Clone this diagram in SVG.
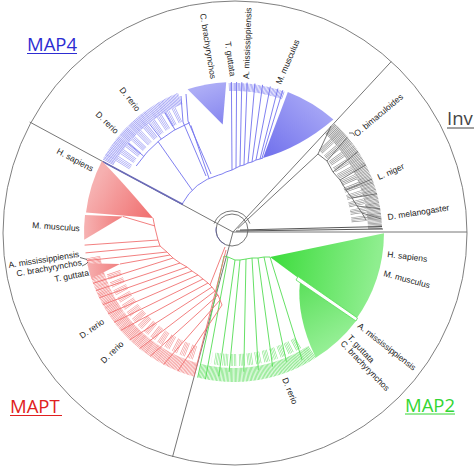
<svg xmlns="http://www.w3.org/2000/svg" width="474" height="467" viewBox="0 0 474 467">
<style>
.sp{font-family:"Liberation Sans",Arial,sans-serif;font-size:8.5px;fill:#222}
.big{font-family:"Open Sans","Liberation Sans",sans-serif;font-size:18.5px}
.div{stroke:#777;stroke-width:1;fill:none}
.bl{stroke:#7272ee;stroke-width:0.9;fill:none}
.rd{stroke:#f07272;stroke-width:0.9;fill:none}
.gr{stroke:#55dd55;stroke-width:0.9;fill:none}
.gy{stroke:#666;stroke-width:0.9;fill:none}
.comb{fill:none;stroke-dasharray:0.6 0.7}
.comb2{fill:none;stroke-dasharray:0.6 0.9 0.6 0.9 0.6 0.9 0.6 3;opacity:0.75}
.lead{stroke:#333;stroke-width:0.7;fill:none}
</style>
<defs>
<linearGradient id="gBlueMid" gradientUnits="userSpaceOnUse" x1="222" y1="125" x2="207" y2="86"><stop offset="0" stop-color="#8585ef"/><stop offset="1" stop-color="#acacf6"/></linearGradient>
<linearGradient id="gBlueRight" gradientUnits="userSpaceOnUse" x1="263" y1="158" x2="312" y2="104"><stop offset="0" stop-color="#6f6fec"/><stop offset="1" stop-color="#a3a3f5"/></linearGradient>
<linearGradient id="gRedBig" gradientUnits="userSpaceOnUse" x1="153" y1="218" x2="95" y2="185"><stop offset="0" stop-color="#f06e6e"/><stop offset="1" stop-color="#f6b0b0"/></linearGradient>
<linearGradient id="gRedSmall" gradientUnits="userSpaceOnUse" x1="123" y1="240" x2="86" y2="240"><stop offset="0" stop-color="#f07a7a"/><stop offset="1" stop-color="#f6b0b0"/></linearGradient>
<linearGradient id="gGreen1" gradientUnits="userSpaceOnUse" x1="270" y1="257" x2="375" y2="275"><stop offset="0" stop-color="#3cdc3c"/><stop offset="1" stop-color="#8fee8f"/></linearGradient>
<linearGradient id="gGreen2" gradientUnits="userSpaceOnUse" x1="300" y1="282" x2="337" y2="343"><stop offset="0" stop-color="#5be05b"/><stop offset="1" stop-color="#95ef95"/></linearGradient>
</defs>
<rect width="474" height="467" fill="#fff"/>

<g id="frame">
<circle cx="235" cy="233" r="232" fill="none" stroke="#808080" stroke-width="1"/>
</g>

<g id="connectors">
<path class="div" d="M233,232 L29.7,122"/>
<path class="div" d="M233,232 L391.3,61.5"/>
<path class="div" d="M233,232 L467,232"/>
<path class="div" d="M233,232 L172.5,457"/>
</g>

<g id="clade-map4">
<path class="comb" stroke="#8a8af2" stroke-width="12" d="M108.1,162.2 A144,144 0 0 1 180.1,98.5"/>
<path class="comb2" stroke="#7a7af0" stroke-width="16" d="M122.6,165 A130,130 0 0 1 179.1,114.2"/>
<path class="comb" stroke="#8a8af2" stroke-width="8" d="M228.9,87.1 A145,145 0 0 1 283.6,95.7"/>
<path fill="url(#gBlueMid)" d="M222.7,124.6 L187.6,89.3 A150,150 0 0 1 226.2,82.2 Z"/>
<path fill="url(#gBlueRight)" d="M263,158 L287.8,92 A150,150 0 0 1 333.4,119.6 Q300,148 263,158 Z"/>
<path class="bl" d="M231.4,82 L232,170 M236.6,82 L236,168 M241.8,82.2 L240,166 M247.1,82.6 L244,165 M254.9,83.5 L248,163 M262.6,84.8 L252,162 M270.3,86.5 L256,160 M277.9,88.6 L260,159 M282.8,90.2 L262,158"/>
<path class="bl" d="M218.7,175 L222,174 L226,172 L232,170 L236,168 L240,166 L244,165 L248,163 L252,162 L256,160 L260,159 L263,158"/>
<path class="bl" d="M182.1,204 A59,59 0 0 1 218.7,175"/>
<path class="bl" d="M192.3,190.3 L158.1,141.6 M209.1,178.5 L190.9,125.4 M206,176 L183,122 L181,96 M211,174 L188,121 L186,94"/>
<path class="bl" d="M136.2,166 A118,118 0 0 1 189.8,122.6 M143.6,156.1 L128.3,143.3 M161.3,139 L149,123.3 M175,129.8 L165,112.5"/>
<path stroke="#6a6ab8" stroke-width="1.5" fill="none" d="M183,204.5 L102.5,161.5"/>
<path class="bl" d="M224.7,244.3 A16,16 0 0 1 216.2,227.2"/>
<text class="sp" transform="translate(200,14) rotate(81)">C. brachyrynchos</text>
<text class="sp" transform="translate(225,42) rotate(82)">T. guttata</text>
<text class="sp" transform="translate(249,79) rotate(-88)">A. mississippiensis</text>
<text class="sp" transform="translate(281,85) rotate(-67)">M. musculus</text>
<text class="sp" transform="translate(119,90) rotate(52)">D. rerio</text>
<text class="sp" transform="translate(95,115) rotate(44)">D. rerio</text>
<text class="sp" transform="translate(56,153) rotate(28)">H. sapiens</text>
<text class="big" x="27" y="51" fill="#2d2dd2">MAP4</text>
<line x1="27" y1="53.5" x2="77" y2="53.5" stroke="#2d2dd2" stroke-width="1"/>
</g>

<g id="clade-inv">
<path class="comb" stroke="#777" stroke-width="14" d="M330.2,128.9 A141,141 0 0 1 375,229.5"/>
<path class="comb2" stroke="#666" stroke-width="16" d="M324.6,144.5 A126,126 0 0 1 359.7,223.2"/>
<path class="gy" d="M237.7,228.6 L318,154 L331,126"/>
<path class="gy" d="M318,154 L327,161 L333,172 L340,180 L346,190 L352,198 L357,206 L362,213 L366,220"/>
<path class="gy" d="M327,161 L347.4,136.9 M333,172 L358.1,151.4 M340,180 L365.9,164.8 M346,190 L372.2,179 M352,198 L377,193.7 M357,206 L380.2,208.8 M362,213 L381.4,219.1"/>
<path stroke="#444" stroke-width="0.9" fill="none" d="M236,231 L383,229 M240,230 L382,226.5"/>
<circle cx="232" cy="230" r="16" fill="none" stroke="#666" stroke-width="0.9"/>
<path class="gy" d="M214.1,223.5 A19,19 0 0 1 249.9,223.5"/>
<path class="lead" d="M349,133 L353,133 L355,136"/>
<text class="sp" transform="translate(357,137) rotate(-40)">O. bimaculoides</text>
<text class="sp" transform="translate(379,180) rotate(-24)">L. niger</text>
<text class="sp" transform="translate(388,220) rotate(-9)">D. melanogaster</text>
<text class="big" x="447" y="125" fill="#444">Inv</text>
<line x1="447" y1="128" x2="474" y2="128" stroke="#444" stroke-width="1"/>
</g>

<g id="clade-map2">
<path class="comb" stroke="#66e066" stroke-width="14" d="M311.9,351.9 A143,143 0 0 1 199.4,370.7"/>
<path class="comb2" stroke="#55dd55" stroke-width="12" d="M298,342.9 A128,128 0 0 1 211.8,358.1"/>
<path fill="url(#gGreen1)" d="M270,257 L384,233.3 A150,150 0 0 1 355.4,320.2 Z"/>
<path fill="url(#gGreen2)" d="M300,282 L356,321 A150,150 0 0 1 315.7,357.8 Q296,316 300,282 Z"/>
<path fill="#fff" stroke="#55dd55" stroke-width="0.8" d="M298,276.5 L357.5,318 L356,321 L296,280 Z"/>
<path class="gr" d="M224,256 L197.7,377.5 M228,257 L205.4,379.2 M235,260 L218.8,376.2 M240,260 L229.1,371.9 M246,259 L243.8,371.7 M252,258 L258.3,369.9 M258,258 L272.6,366.6 M264,257 L286.4,361.8 M270,257 L302.1,360"/>
<path class="gr" d="M224,256 L228,257 L235,260 L240,260 L246,259 L252,258 L258,258 L264,257 L270,257"/>
<text class="sp" transform="translate(387,257) rotate(7)">H. sapiens</text>
<text class="sp" transform="translate(383,276) rotate(15)">M. musculus</text>
<text class="sp" transform="translate(357,327) rotate(38)">A. mississippiensis</text>
<text class="sp" transform="translate(347,338) rotate(47)">T. guttata</text>
<text class="sp" transform="translate(340,344) rotate(46)">C. brachyrynchos</text>
<text class="sp" transform="translate(282,379) rotate(68)">D. rerio</text>
<text class="big" x="405" y="412" fill="#33d633">MAP2</text>
<line x1="405" y1="414" x2="455" y2="414" stroke="#33d633" stroke-width="1"/>
</g>

<g id="clade-mapt">
<path class="comb" stroke="#f28080" stroke-width="14" d="M194.6,369.5 A143,143 0 0 1 93.2,256.8"/>
<path class="comb2" stroke="#f07070" stroke-width="14" d="M194.8,352.8 A127,127 0 0 1 113.2,271.2"/>
<path fill="url(#gRedBig)" d="M101.9,160.9 Q122,181 153,218 L86,212.5 A150,150 0 0 1 101.9,160.9 Z"/>
<path fill="url(#gRedSmall)" d="M123,216.5 L84.2,239.8 A150,150 0 0 1 85,215 Z"/>
<path fill="url(#gRedSmall)" d="M120,264 L91.3,278.4 A150,150 0 0 1 87.3,263.2 Z"/>
<path class="rd" d="M84.6,245.1 L158,240 M85.5,252.9 L160,246 M86.8,260.6 L167,252 M93,283.3 L173,258 M95.9,290.6 L180,263 M99.2,297.8 L187,267 M102.8,304.7 L192,271 M108.2,313.7 L198,275 M114.2,322.3 L203,279 M120.8,330.4 L208,283 M129.8,339.9 L212,287 M139.6,348.6 L215,291 M150.1,356.4 L218,295 M163.6,364.4 L220,300 M177.8,371.1 L222,305 M193.9,376.5 L226,250"/>
<path class="rd" d="M153,218 L155,228 L158,240 L160,246 L167,252 L173,258 L180,263 L187,267 L192,271 L198,275 L203,279 L208,283 L212,287 L215,291 L218,295 L220,300 L222,305"/>
<path class="rd" d="M210,285 L225,247 M123,216.5 L155,226 M120,264 L170,255"/>
<path class="lead" d="M80,257.5 L87,259.5 M82,266 L86,264 L88,262"/>
<text class="sp" transform="translate(32,228) rotate(4)">M. musculus</text>
<text class="sp" transform="translate(9,268) rotate(-9)">A. mississippiensis</text>
<text class="sp" transform="translate(17,276.5) rotate(-10)">C. brachyrynchos</text>
<text class="sp" transform="translate(55,282) rotate(-11)">T. guttata</text>
<text class="sp" transform="translate(82,339) rotate(-35)">D. rerio</text>
<text class="sp" transform="translate(104,364) rotate(-44)">D. rerio</text>
<text class="big" x="10" y="413" fill="#e02020">MAPT</text>
<line x1="10" y1="415.5" x2="62" y2="415.5" stroke="#e02020" stroke-width="1"/>
</g>
</svg>
